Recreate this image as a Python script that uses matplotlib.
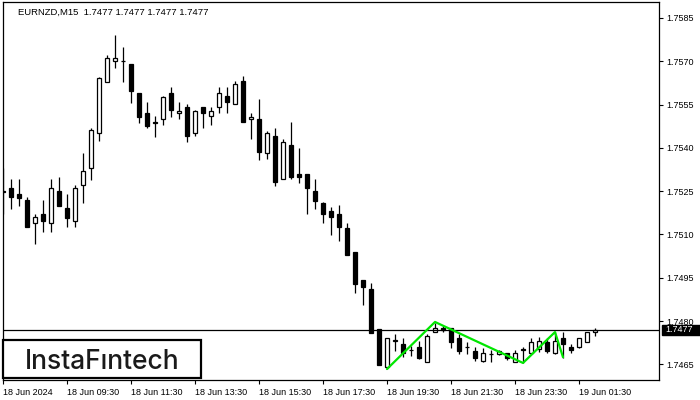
import matplotlib
matplotlib.use("Agg")
import matplotlib.pyplot as plt
from matplotlib.patches import Rectangle
import matplotlib.transforms as mtransforms

# ---- data (EURNZD, M15) ----
opens = [1.75250, 1.75260, 1.75240, 1.75219, 1.75138, 1.75171, 1.75138, 1.75250, 1.75190, 1.75147,
         1.75271, 1.75329, 1.75450, 1.75629, 1.75701, 1.75701, 1.75689, 1.75589, 1.75519, 1.75488,
         1.75499, 1.75589, 1.75519, 1.75540, 1.75450, 1.75540, 1.75510, 1.75540, 1.75579, 1.75551,
         1.75631, 1.75499, 1.75499, 1.75381, 1.75441, 1.75291, 1.75410, 1.75309, 1.75309, 1.75250,
         1.75210, 1.75181, 1.75171, 1.75121, 1.75038, 1.74942, 1.74911, 1.74771, 1.74640, 1.74732,
         1.74719, 1.74700, 1.74709, 1.74659, 1.74763, 1.74777, 1.74775, 1.74740, 1.74711, 1.74698,
         1.74661, 1.74686, 1.74685, 1.74688, 1.74659, 1.74701, 1.74688, 1.74705, 1.74728, 1.74688,
         1.74740, 1.74711, 1.74709, 1.74728, 1.74761]
highs = [1.75330, 1.75292, 1.75292, 1.75228, 1.75171, 1.75219, 1.75292, 1.75300, 1.75240, 1.75271,
         1.75381, 1.75470, 1.75645, 1.75721, 1.75791, 1.75748, 1.75689, 1.75589, 1.75558, 1.75510,
         1.75579, 1.75610, 1.75558, 1.75551, 1.75530, 1.75542, 1.75540, 1.75612, 1.75612, 1.75631,
         1.75649, 1.75522, 1.75568, 1.75459, 1.75468, 1.75429, 1.75488, 1.75398, 1.75311, 1.75292,
         1.75212, 1.75196, 1.75202, 1.75140, 1.75040, 1.74944, 1.74931, 1.74773, 1.74742, 1.74755,
         1.74740, 1.74713, 1.74731, 1.74757, 1.74795, 1.74784, 1.74776, 1.74754, 1.74728, 1.74710,
         1.74706, 1.74700, 1.74700, 1.74689, 1.74700, 1.74711, 1.74740, 1.74745, 1.74740, 1.74761,
         1.74763, 1.74719, 1.74743, 1.74762, 1.74775]
lows = [1.75170, 1.75189, 1.75199, 1.75127, 1.75068, 1.75109, 1.75109, 1.75199, 1.75127, 1.75127,
        1.75208, 1.75288, 1.75422, 1.75629, 1.75677, 1.75629, 1.75556, 1.75487, 1.75468, 1.75438,
        1.75479, 1.75508, 1.75499, 1.75419, 1.75442, 1.75468, 1.75479, 1.75519, 1.75519, 1.75551,
        1.75488, 1.75429, 1.75358, 1.75360, 1.75269, 1.75291, 1.75291, 1.75278, 1.75170, 1.75188,
        1.75138, 1.75098, 1.75078, 1.75029, 1.74898, 1.74855, 1.74760, 1.74648, 1.74635, 1.74698,
        1.74674, 1.74680, 1.74670, 1.74659, 1.74762, 1.74762, 1.74708, 1.74686, 1.74687, 1.74661,
        1.74660, 1.74658, 1.74682, 1.74665, 1.74658, 1.74655, 1.74687, 1.74694, 1.74688, 1.74687,
        1.74671, 1.74688, 1.74708, 1.74727, 1.74749]
closes = [1.75248, 1.75228, 1.75227, 1.75127, 1.75159, 1.75147, 1.75260, 1.75199, 1.75158, 1.75260,
          1.75320, 1.75462, 1.75641, 1.75710, 1.75710, 1.75700, 1.75598, 1.75508, 1.75477, 1.75487,
          1.75577, 1.75531, 1.75528, 1.75441, 1.75528, 1.75519, 1.75528, 1.75589, 1.75558, 1.75621,
          1.75488, 1.75508, 1.75387, 1.75450, 1.75280, 1.75419, 1.75298, 1.75298, 1.75260, 1.75217,
          1.75170, 1.75159, 1.75127, 1.75029, 1.74928, 1.74919, 1.74760, 1.74648, 1.74740, 1.74734,
          1.74688, 1.74699, 1.74671, 1.74749, 1.74775, 1.74769, 1.74728, 1.74697, 1.74710, 1.74671,
          1.74688, 1.74685, 1.74698, 1.74673, 1.74688, 1.74702, 1.74728, 1.74731, 1.74696, 1.74731,
          1.74719, 1.74700, 1.74742, 1.74761, 1.74770]

pattern_idx = [48, 54, 65, 69, 70]
pattern_price = [1.74634, 1.74797, 1.74655, 1.74762, 1.74675]

current_price = 1.7477
title_text = "EURNZD,M15  1.7477 1.7477 1.7477 1.7477"
x_tick_idx = [0, 8, 16, 24, 32, 40, 48, 56, 64, 72]
x_tick_labels = ["18 Jun 2024", "18 Jun 09:30", "18 Jun 11:30", "18 Jun 13:30", "18 Jun 15:30",
                 "18 Jun 17:30", "18 Jun 19:30", "18 Jun 21:30", "18 Jun 23:30", "19 Jun 01:30"]
y_ticks = [1.7465, 1.7480, 1.7495, 1.7510, 1.7525, 1.7540, 1.7555, 1.7570, 1.7585]

FONT = "Liberation Sans"
FS = 6.5

fig = plt.figure(figsize=(7, 4), dpi=100)
fig.patch.set_facecolor("white")
ax = fig.add_axes([3 / 700, 1 - 380 / 400, 656 / 700, 378 / 400])
ax.set_facecolor("white")

ax.set_xlim(0, 82)
ax.set_ylim(1.74596, 1.75905)

bw = 0.5
for i, (o, h, l, c) in enumerate(zip(opens, highs, lows, closes)):
    ax.plot([i, i], [l, h], color="black", lw=0.9, solid_capstyle="butt", zorder=2)
    bottom = min(o, c)
    height = abs(c - o)
    fc = "white" if c >= o else "black"
    ax.add_patch(Rectangle((i - bw / 2, bottom), bw, height, facecolor=fc,
                           edgecolor="black", lw=0.9, zorder=3))

ax.axhline(current_price, color="black", lw=0.9, zorder=4)
ax.plot(pattern_idx, pattern_price, color="#00e600", lw=1.6, zorder=5, solid_capstyle="round")

for s in ax.spines.values():
    s.set_color("black")
    s.set_linewidth(0.9)

ax.yaxis.tick_right()
ax.set_yticks(y_ticks)
ax.set_yticklabels([f"{v:.4f}" for v in y_ticks], fontsize=FS, family=FONT)
ax.tick_params(axis="y", direction="out", length=3, width=0.8, pad=2.5, colors="black")

ax.set_xticks(x_tick_idx)
ax.set_xticklabels(x_tick_labels, fontsize=FS, family=FONT, ha="left")
ax.tick_params(axis="x", direction="out", length=3, width=0.8, pad=2.5, colors="black")

# current price box
trans = mtransforms.blended_transform_factory(fig.transFigure, ax.transData)
ax.add_patch(Rectangle((662 / 700, current_price - 0.000165), 38 / 700, 0.00033,
                       transform=trans, facecolor="black", edgecolor="black",
                       clip_on=False, zorder=10))
ax.text(665 / 700, current_price, f"{current_price:.4f}", transform=trans, color="white",
        fontsize=FS, family=FONT, va="center", ha="left", zorder=11, clip_on=False)

fig.text(18 / 700, 1 - 12 / 400, title_text, fontsize=6.8, family=FONT, va="center", ha="left",
         color="black")

# logo
fig.patches.append(Rectangle((3 / 700, 22 / 400), 198 / 700, 38 / 400, transform=fig.transFigure,
                             facecolor="white", edgecolor="black", lw=1.6, zorder=20))
fig.text(102 / 700, 31 / 400, "InstaF\u0131ntech", fontsize=19, family="Inter",
         fontweight="medium", color="#1a1a1a", ha="center", va="baseline", zorder=21)

fig.savefig("out.png", dpi=100)
